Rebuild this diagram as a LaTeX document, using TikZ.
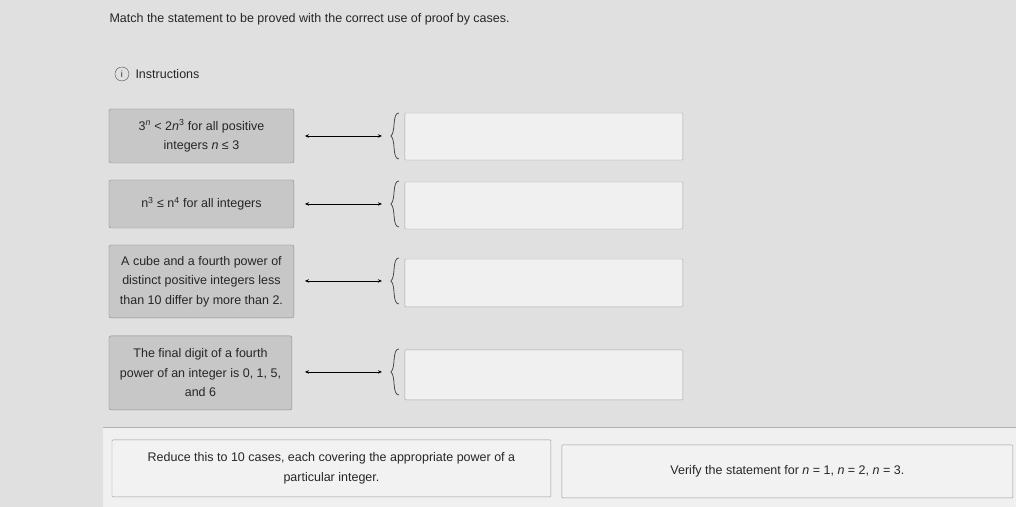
\documentclass[tikz,border=0pt]{standalone}
\usepackage{fontspec}
\setmainfont{Liberation Sans}
\usetikzlibrary{arrows.meta}
\newcommand{\vn}{\textit{n}}
\begin{document}
\begin{tikzpicture}[x=1pt,y=-1pt,
  every node/.style={font=\fontsize{12.5}{19.5}\selectfont, text=black!85},
  stmt/.style={draw=black!45, fill=black!22, rounded corners=2pt, align=center, inner sep=0pt},
  slot/.style={draw=black!35, fill=black!6, rounded corners=1pt, inner sep=0pt},
  ans/.style={draw=black!40, fill=black!5, rounded corners=1pt, align=center, inner sep=0pt},
  link/.style={black, line width=0.7pt, <->, >={Stealth[length=4pt,width=3.5pt]}},
  br/.style={black!70, line width=0.8pt}]
\fill[black!12] (0,0) rectangle (1016,507);
\fill[black!6] (103,427) rectangle (1016,507);
\draw[black!30] (103,427) -- (1016,427);
\node[anchor=west] (title) at (106,19) {Match the statement to be proved with the correct use of proof by cases.};
\node[draw=black!70, circle, inner sep=0pt, minimum size=14pt, font=\fontsize{9}{10}\selectfont] (info) at (122,74) {i};
\node[anchor=west] (instr) at (132,74) {Instructions};
% statements
\node[stmt, minimum width=185pt, minimum height=54pt] (s1) at (201.5,136) {3\textsuperscript{\vn} < 2\vn\textsuperscript{3} for all positive\\integers \vn{} ≤ 3};
\node[stmt, minimum width=185pt, minimum height=48pt] (s2) at (201.5,204) {n\textsuperscript{3} ≤ n\textsuperscript{4} for all integers};
\node[stmt, minimum width=185pt, minimum height=73pt] (s3) at (201.5,281.5) {A cube and a fourth power of\\distinct positive integers less\\than 10 differ by more than 2.};
\node[stmt, minimum width=183pt, minimum height=74pt] (s4) at (200.5,373) {The final digit of a fourth\\power of an integer is 0, 1, 5,\\and 6};
% slots
\node[slot, minimum width=278pt, minimum height=47pt] (t1) at (544,136.5) {};
\node[slot, minimum width=278pt, minimum height=47pt] (t2) at (544,205.5) {};
\node[slot, minimum width=278pt, minimum height=48pt] (t3) at (544,283) {};
\node[slot, minimum width=278pt, minimum height=50pt] (t4) at (544,375) {};
\foreach \i/\y in {1/136,2/204,3/281,4/372}{
  \coordinate (a\i) at (305,\y);
  \coordinate (b\i) at (382,\y);
  \draw[link] (a\i) -- (b\i);
  \draw[br] (399,\y-23) .. controls (392,\y-23) and (396,\y-4) .. (391,\y) .. controls (396,\y+4) and (392,\y+23) .. (399,\y+23);
}
% answers
\node[ans, minimum width=439pt, minimum height=57pt] (r1) at (331.5,468.5) {Reduce this to 10 cases, each covering the appropriate power of a\\particular integer.};
\node[ans, minimum width=451pt, minimum height=53pt] (r2) at (787.5,471.5) {Verify the statement for \vn{} = 1, \vn{} = 2, \vn{} = 3.};
\end{tikzpicture}
\end{document}
